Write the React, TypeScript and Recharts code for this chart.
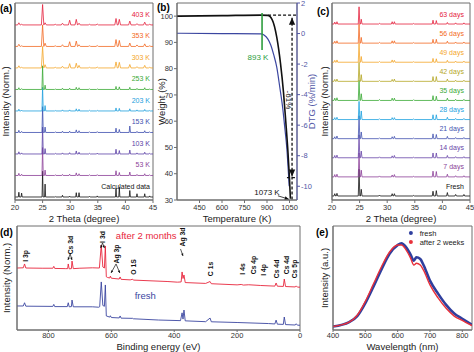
import React from 'react';
import { LineChart, Line, XAxis, YAxis, ReferenceArea, ReferenceLine, ReferenceDot } from 'recharts';

const FONT = '"Liberation Sans", Arial, Helvetica, sans-serif';
const AXIS = '#6e6e6e';
const TICK = { fontSize: 7.5, fill: '#333' };
const TITLE = 9.5;

// ---------- (a) variable-temperature XRD ----------
const thetaTicks = [20, 25, 30, 35, 40, 45];
const tempNames = ['Calculated data', '53 K', '103 K', '153 K', '203 K', '253 K', '303 K', '353 K', '403 K'];
const tempColors = ['#111111', '#8b3f98', '#5a40a6', '#3e4eae', '#1ea0dd', '#3aa935', '#f4a62a', '#f36a23', '#e5213c'];
const tempPeakPos = [20.7, 21.2, 25.0, 25.45, 27.3, 28.6, 29.9, 31.1, 31.6, 33.5, 34.9, 38.3, 38.9, 40.8, 42.1, 43.5, 44.4];
const calcPeaks = [0.22, 0.18, 1.2, 0.6, 0.02, 0.08, 0.04, 0.2, 0.2, 0.03, 0.05, 0.4, 0.45, 0.3, 0.15, 0.15, 0.05];
const k53Peaks = [0.1, 0.06, 1.3, 0.25, 0.03, 0.05, 0.06, 0.12, 0.08, 0.03, 0.04, 0.22, 0.14, 0.16, 0.05, 0.08, 0.03];
const k103Peaks = [0.1, 0.05, 1.25, 0.25, 0.03, 0.05, 0.06, 0.14, 0.08, 0.03, 0.04, 0.22, 0.16, 0.18, 0.05, 0.08, 0.03];
const k153Peaks = [0.1, 0.05, 1.2, 0.25, 0.03, 0.06, 0.06, 0.12, 0.08, 0.03, 0.04, 0.2, 0.14, 0.3, 0.05, 0.08, 0.03];
const k203Peaks = [0.08, 0.04, 1.1, 0.25, 0.02, 0.05, 0.05, 0.1, 0.08, 0.03, 0.03, 0.14, 0.12, 0.1, 0.05, 0.07, 0.02];
const k253Peaks = [0.08, 0.04, 1.1, 0.2, 0.02, 0.06, 0.06, 0.1, 0.08, 0.03, 0.03, 0.14, 0.12, 0.1, 0.05, 0.08, 0.02];
const k303Peaks = [0.1, 0.03, 1.0, 0.15, 0.03, 0.08, 0.2, 0.22, 0.12, 0.03, 0.04, 0.28, 0.26, 0.16, 0.06, 0.12, 0.03];
const k353Peaks = [0.1, 0.03, 1.0, 0.15, 0.03, 0.08, 0.22, 0.25, 0.08, 0.03, 0.04, 0.32, 0.28, 0.16, 0.07, 0.12, 0.03];
const k403Peaks = [0.1, 0.03, 0.95, 0.1, 0.03, 0.08, 0.22, 0.26, 0.08, 0.03, 0.04, 0.3, 0.26, 0.18, 0.06, 0.13, 0.03];
const tempHeights = [calcPeaks, k53Peaks, k103Peaks, k153Peaks, k203Peaks, k253Peaks, k303Peaks, k353Peaks, k403Peaks];
const tempPeakWidth = [0.1, 0.12, 0.12, 0.12, 0.12, 0.12, 0.22, 0.22, 0.22];

// ---------- (b) TG / DTG ----------
const tempTicks = [450, 600, 750, 900, 1050];
const weightTicks = [30, 40, 50, 60, 70, 80, 90, 100];
const dtgTicks = [-10, -8, -6, -4, -2, 0, 2];
const tgTemp = [300, 600, 860, 905, 935, 965, 990, 1010, 1025, 1040, 1050, 1056];
const tgWeight = [100.0, 100.2, 100.4, 100.3, 98.6, 92, 82, 71, 60, 48, 38, 30.5];
const dtgTemp = [300, 600, 860, 880, 905, 925, 945, 965, 985, 1005, 1020, 1032, 1042, 1048];
const dtgValue = [0.02, 0.0, -0.02, -0.1, -0.35, -0.75, -1.4, -2.2, -3.5, -4.9, -6.3, -7.5, -9.0, -10.0];

// ---------- (c) ageing XRD ----------
const dayNames = ['Fresh', '7 days', '14 days', '21 days', '28 days', '35 days', '42 days', '49 days', '56 days', '63 days'];
const dayColors = ['#111111', '#8b3f98', '#6845a8', '#4453b0', '#1da1e0', '#3aa935', '#b5a726', '#f4a62a', '#f36a23', '#e5213c'];
const dayPeakPos = [20.5, 20.9, 24.9, 25.3, 28.6, 30.9, 31.3, 34.8, 38.3, 38.9, 40.9, 42.4, 43.9];
const freshPeaks = [0.12, 0.14, 1.4, 0.35, 0.05, 0.12, 0.12, 0.03, 0.25, 0.28, 0.18, 0.08, 0.08];
const d7Peaks = [0.12, 0.14, 1.25, 0.35, 0.05, 0.1, 0.12, 0.03, 0.3, 0.28, 0.14, 0.06, 0.06];
const d14Peaks = [0.12, 0.14, 1.2, 0.35, 0.05, 0.1, 0.12, 0.03, 0.25, 0.25, 0.12, 0.06, 0.06];
const d21Peaks = [0.1, 0.14, 1.2, 0.35, 0.04, 0.1, 0.12, 0.03, 0.25, 0.22, 0.12, 0.06, 0.06];
const d28Peaks = [0.1, 0.12, 0.95, 0.45, 0.04, 0.1, 0.1, 0.03, 0.25, 0.25, 0.12, 0.06, 0.06];
const d35Peaks = [0.12, 0.14, 1.05, 0.35, 0.05, 0.12, 0.12, 0.04, 0.25, 0.22, 0.12, 0.06, 0.06];
const d42Peaks = [0.1, 0.12, 1.0, 0.35, 0.04, 0.1, 0.12, 0.03, 0.25, 0.25, 0.12, 0.06, 0.06];
const d49Peaks = [0.1, 0.12, 1.0, 0.3, 0.04, 0.12, 0.1, 0.03, 0.2, 0.18, 0.1, 0.06, 0.06];
const d56Peaks = [0.1, 0.12, 1.0, 0.3, 0.04, 0.12, 0.12, 0.03, 0.2, 0.2, 0.1, 0.06, 0.06];
const d63Peaks = [0.1, 0.12, 0.9, 0.25, 0.04, 0.12, 0.12, 0.03, 0.2, 0.18, 0.08, 0.06, 0.06];
const dayHeights = [freshPeaks, d7Peaks, d14Peaks, d21Peaks, d28Peaks, d35Peaks, d42Peaks, d49Peaks, d56Peaks, d63Peaks];

// ---------- (d) XPS survey: [binding energy, intensity] ----------
const energyTicks = [0, 200, 400, 600, 800];
const xpsAged: [number, number][] = [
  [900, 0.596], [880, 0.598], [876, 0.635], [872, 0.596], [820, 0.594], [786, 0.594], [783, 0.612], [780, 0.592],
  [745, 0.59], [739, 0.59], [737, 0.635], [734, 0.588], [727, 0.59], [725, 0.663], [721, 0.59], [700, 0.594],
  [660, 0.598], [638, 0.596], [632, 0.817], [627, 0.606], [622, 0.596], [619, 0.808], [616, 0.512], [612, 0.505],
  [605, 0.5], [603, 0.518], [600, 0.498], [575, 0.49], [572, 0.51], [569, 0.487], [540, 0.482], [532, 0.488],
  [530, 0.48], [420, 0.466], [390, 0.46], [378, 0.462], [375, 0.558], [372, 0.495], [369, 0.529], [365, 0.456],
  [300, 0.448], [286, 0.466], [282, 0.445], [200, 0.434], [187, 0.438], [180, 0.432], [163, 0.435], [125, 0.428],
  [80, 0.422], [76, 0.452], [72, 0.421], [53, 0.419], [50, 0.49], [46, 0.418], [15, 0.414], [12, 0.424], [8, 0.412], [0, 0.412],
];
const xpsFresh: [number, number][] = [
  [900, 0.231], [880, 0.231], [876, 0.262], [872, 0.229], [786, 0.227], [783, 0.246], [780, 0.225], [740, 0.225],
  [737, 0.262], [734, 0.223], [727, 0.225], [725, 0.288], [721, 0.223], [660, 0.223], [640, 0.219], [637, 0.224],
  [632, 0.462], [627, 0.236], [622, 0.228], [619, 0.433], [616, 0.135], [605, 0.124], [603, 0.137], [600, 0.12],
  [575, 0.116], [572, 0.135], [569, 0.114], [532, 0.112], [530, 0.108], [450, 0.096], [380, 0.09], [375, 0.165],
  [372, 0.105], [369, 0.192], [365, 0.088], [300, 0.08], [286, 0.115], [282, 0.079], [200, 0.072], [100, 0.062],
  [80, 0.058], [76, 0.095], [72, 0.056], [53, 0.054], [50, 0.125], [46, 0.052], [15, 0.048], [12, 0.06], [8, 0.046], [0, 0.046],
];
const xpsLabels: [string, number, number][] = [
  ['I 3p', 873, 0.712], ['Cs 3d', 730, 0.817], ['I 3d', 629, 0.894], ['Ag 3p', 584, 0.731], ['O 1S', 530, 0.606],
  ['Ag 3d', 375, 0.894], ['C 1s', 283, 0.587], ['I 4s', 184, 0.587], ['Cs 4p', 149, 0.625], ['I 4p', 117, 0.577],
  ['Cs 4d', 76, 0.587], ['Cs 4d', 44, 0.625], ['Cs 5p', 16, 0.587],
];
const xpsArrows: [number, number, number, number][] = [
  [731, 0.731, 738, 0.673], [731, 0.731, 725, 0.673],
  [628, 0.837, 634, 0.788], [628, 0.837, 622, 0.788],
  [585, 0.635, 601, 0.548], [585, 0.635, 573, 0.548],
  [380, 0.779, 372, 0.712],
];

// ---------- (e) PL ----------
const nmTicks = [400, 500, 600, 700, 800];
const plNm = [400, 450, 475, 500, 525, 550, 575, 600, 612, 625, 640, 650, 658, 670, 680, 700, 725, 750, 775, 800, 830];
const plFresh = [0.04, 0.09, 0.16, 0.31, 0.5, 0.7, 0.88, 0.98, 1.0, 0.96, 0.87, 0.8, 0.84, 0.82, 0.75, 0.57, 0.42, 0.29, 0.19, 0.13, 0.06];
const plAged = [0.04, 0.09, 0.17, 0.33, 0.53, 0.73, 0.9, 0.98, 0.98, 0.93, 0.83, 0.75, 0.77, 0.75, 0.69, 0.52, 0.37, 0.25, 0.16, 0.11, 0.05];
const plNames = ['fresh', 'after 2 weeks'];
const plColors = ['#2f3f9e', '#e8303a'];

// stick patterns from peak tables, stacked by offset
const buildPattern = (pos: number[], h: number[], base: number, hw: number) => {
  const pts = [{ x: 20, y: base }];
  pos.forEach((p, i) => {
    pts.push({ x: p - hw, y: base }, { x: p, y: base + h[i] }, { x: p + hw, y: base });
  });
  pts.push({ x: 45, y: base });
  return pts;
};
const tempPatterns = tempHeights.map((h, i) => buildPattern(tempPeakPos, h, 0.14 + i, tempPeakWidth[i]));
const dayPatterns = dayHeights.map((h, i) => buildPattern(dayPeakPos, h, 0.21 + i, 0.14));
const tgData = tgTemp.map((t, i) => ({ x: t, y: tgWeight[i] }));
const dtgData = dtgTemp.map((t, i) => ({ x: t, y: dtgValue[i] }));
const agedData = xpsAged.map(([x, y]) => ({ x, y }));
const freshData = xpsFresh.map(([x, y]) => ({ x, y }));
const plFreshData = plNm.map((x, i) => ({ x, y: plFresh[i] }));
const plAgedData = plNm.map((x, i) => ({ x, y: plAged[i] }));

const textShape = (text: string, color = '#222', size = 7.5, anchor = 'middle', angle = 0, weight = 'normal') =>
  (p: any) => {
    const { cx, cy } = p;
    if (cx == null || cy == null) return <g />;
    return (
      <text x={cx} y={cy} fill={color} fontSize={size} fontWeight={weight} textAnchor={anchor}
        dominantBaseline="central" transform={angle ? `rotate(${angle} ${cx} ${cy})` : undefined}>
        {text}
      </text>
    );
  };

const arrowShape = (color: string, dashed: boolean, heads: 'none' | 'end' | 'both', width = 1, head = 4) =>
  (p: any) => {
    const { x1, y1, x2, y2 } = p;
    const a = Math.atan2(y2 - y1, x2 - x1);
    const tri = (x: number, y: number, ang: number) => {
      const w = head * 0.45;
      const bx = x - head * Math.cos(ang);
      const by = y - head * Math.sin(ang);
      return `${x},${y} ${bx + w * Math.sin(ang)},${by - w * Math.cos(ang)} ${bx - w * Math.sin(ang)},${by + w * Math.cos(ang)}`;
    };
    return (
      <g>
        <line x1={x1} y1={y1} x2={x2} y2={y2} stroke={color} strokeWidth={width} strokeDasharray={dashed ? '3 2' : undefined} />
        {heads !== 'none' && <polygon points={tri(x2, y2, a)} fill={color} />}
        {heads === 'both' && <polygon points={tri(x1, y1, a + Math.PI)} fill={color} />}
      </g>
    );
  };

const box = (left: number, top: number): React.CSSProperties => ({ position: 'absolute', left, top });
const letter = (left: number, top: number): React.CSSProperties => ({
  position: 'absolute', left, top, fontSize: 10, fontWeight: 'bold', lineHeight: '12px',
});

const PanelA = () => (
  <LineChart width={163} height={224} margin={{ top: 3, right: 7, bottom: 0, left: 0 }}>
    <XAxis type="number" dataKey="x" domain={[20, 45]} ticks={thetaTicks} interval={0} allowDataOverflow
      tick={TICK} tickSize={3} tickMargin={2} height={24} stroke={AXIS}
      label={{ value: '2 Theta (degree)', position: 'insideBottom', offset: 2.5, fontSize: TITLE, fill: '#222' }} />
    <YAxis type="number" domain={[0, 9.16]} allowDataOverflow tick={false} tickLine={false} width={18} stroke={AXIS}
      label={{ value: 'Intensity (Norm.)', angle: -90, position: 'center', fontSize: TITLE, fill: '#222' }} />
    <ReferenceArea x1={20} x2={45} y1={0} y2={9.16} fill="none" stroke={AXIS} />
    {tempPatterns.map((d, i) => (
      <Line key={tempNames[i]} data={d} dataKey="y" type="linear" stroke={tempColors[i]} strokeWidth={0.8}
        dot={false} isAnimationActive={false} />
    ))}
    {tempNames.map((n, i) => (
      <ReferenceDot key={'l' + n} x={44.45} y={0.14 + i + 0.5} r={0} shape={textShape(n, tempColors[i], 7, 'end')} />
    ))}
  </LineChart>
);

const PanelB = () => (
  <LineChart width={180} height={224} margin={{ top: 3, right: 0, bottom: 0, left: 0 }}>
    <XAxis type="number" dataKey="x" domain={[300, 1100]} ticks={tempTicks} interval={0} allowDataOverflow
      tick={TICK} tickSize={3} tickMargin={2} height={24} stroke={AXIS}
      label={{ value: 'Temperature (K)', position: 'insideBottom', offset: 2.5, fontSize: TITLE, fill: '#222' }} />
    <YAxis yAxisId="w" type="number" domain={[30, 105]} ticks={weightTicks} interval={0} allowDataOverflow
      tick={TICK} tickSize={3} tickMargin={1} width={30} stroke={AXIS}
      label={{ value: 'Weight (%)', angle: -90, position: 'center', fontSize: TITLE, fill: '#222' }} />
    <YAxis yAxisId="d" orientation="right" type="number" domain={[-10.9, 2]} ticks={dtgTicks} interval={0}
      allowDataOverflow tick={{ fontSize: 7.5, fill: '#5257a6' }} tickSize={3} tickMargin={1} width={30} stroke="#5257a6"
      label={{ value: 'DTG (%/min)', angle: -90, position: 'center', fontSize: TITLE, fill: '#5257a6' }} />
    <ReferenceArea yAxisId="w" x1={300} x2={1100} y1={30} y2={105} fill="none" stroke={AXIS} />
    <Line yAxisId="d" data={dtgData} dataKey="y" type="monotone" stroke="#3b46a0" strokeWidth={1.2} dot={false} isAnimationActive={false} />
    <Line yAxisId="w" data={tgData} dataKey="y" type="monotone" stroke="#111" strokeWidth={1.6} dot={false} isAnimationActive={false} />
    <ReferenceLine yAxisId="w" segment={[{ x: 867, y: 101.2 }, { x: 867, y: 87.1 }]} stroke="#2e9e3e" strokeWidth={1.6} />
    <ReferenceDot yAxisId="w" x={840} y={84.4} r={0} shape={textShape('893 K', '#2e9e3e', 8)} />
    <ReferenceLine yAxisId="w" segment={[{ x: 907, y: 100.4 }, { x: 1100, y: 100.4 }]}
      shape={arrowShape('#111', true, 'none', 1.3)} />
    <ReferenceLine yAxisId="w" segment={[{ x: 1067, y: 99.4 }, { x: 1067, y: 38.9 }]}
      shape={arrowShape('#111', true, 'both', 1.3, 7)} />
    <ReferenceLine yAxisId="w" segment={[{ x: 1067, y: 38.9 }, { x: 1067, y: 30 }]}
      shape={arrowShape('#111', true, 'none', 1.3)} />
    <ReferenceLine yAxisId="w" segment={[{ x: 1033, y: 38.5 }, { x: 1100, y: 38.5 }]}
      shape={arrowShape('#111', true, 'none', 1.3)} />
    <ReferenceDot yAxisId="w" x={1040} y={68.1} r={0} shape={textShape('-61%', '#111', 8, 'middle', 90)} />
    <ReferenceDot yAxisId="w" x={900} y={32.9} r={0} shape={textShape('1073 K', '#111', 8)} />
    <ReferenceLine yAxisId="w" segment={[{ x: 973, y: 31.6 }, { x: 1045, y: 30.3 }]}
      shape={arrowShape('#111', false, 'end', 0.8, 4)} />
  </LineChart>
);

const PanelC = () => (
  <LineChart width={156} height={224} margin={{ top: 3, right: 4, bottom: 0, left: 0 }}>
    <XAxis type="number" dataKey="x" domain={[20, 45]} ticks={thetaTicks} interval={0} allowDataOverflow
      tick={TICK} tickSize={3} tickMargin={2} height={24} stroke={AXIS}
      label={{ value: '2 Theta (degree)', position: 'insideBottom', offset: 2.5, fontSize: TITLE, fill: '#222' }} />
    <YAxis type="number" domain={[0, 10.31]} allowDataOverflow tick={false} tickLine={false} width={14} stroke={AXIS}
      label={{ value: 'Intensity (Norm.)', angle: -90, position: 'center', fontSize: TITLE, fill: '#222' }} />
    <ReferenceArea x1={20} x2={45} y1={0} y2={10.31} fill="none" stroke={AXIS} />
    {dayPatterns.map((d, i) => (
      <Line key={dayNames[i]} data={d} dataKey="y" type="linear" stroke={dayColors[i]} strokeWidth={0.8}
        dot={false} isAnimationActive={false} />
    ))}
    {dayNames.map((n, i) => (
      <ReferenceDot key={'l' + n} x={43.9} y={0.21 + i + 0.52} r={0} shape={textShape(n, dayColors[i], 7, 'end')} />
    ))}
  </LineChart>
);

const PanelD = () => (
  <LineChart width={314} height={129} margin={{ top: 3, right: 10, bottom: 0, left: 0 }}>
    <XAxis type="number" dataKey="x" domain={[0, 900]} reversed ticks={energyTicks} interval={0} allowDataOverflow
      tick={TICK} tickSize={2} tickMargin={1} height={22} stroke={AXIS}
      label={{ value: 'Binding energy (eV)', position: 'insideBottom', offset: 2, fontSize: TITLE, fill: '#222' }} />
    <YAxis type="number" domain={[0, 1]} allowDataOverflow tick={false} tickLine={false} width={21} stroke={AXIS}
      label={{ value: 'Intensity (Norm.)', angle: -90, position: 'center', fontSize: TITLE, fill: '#222' }} />
    <ReferenceArea x1={0} x2={900} y1={0} y2={1} fill="none" stroke={AXIS} />
    <Line data={agedData} dataKey="y" type="linear" stroke="#e8263c" strokeWidth={0.9} dot={false} isAnimationActive={false} />
    <Line data={freshData} dataKey="y" type="linear" stroke="#3b46a0" strokeWidth={0.9} dot={false} isAnimationActive={false} />
    {xpsArrows.map(([ax, ay, bx, by], i) => (
      <ReferenceLine key={'a' + i} segment={[{ x: ax, y: ay }, { x: bx, y: by }]} shape={arrowShape('#111', false, 'end', 0.7, 2.5)} />
    ))}
    {xpsLabels.map(([t, x, y], i) => (
      <ReferenceDot key={'t' + i} x={x} y={y} r={0} shape={textShape(t, '#111', 6.8, 'middle', -90, 'bold')} />
    ))}
    <ReferenceDot x={489} y={0.913} r={0} shape={textShape('after 2 months', '#e8263c', 9.5)} />
    <ReferenceDot x={492} y={0.327} r={0} shape={textShape('fresh', '#3b46a0', 9.5)} />
  </LineChart>
);

const PanelE = () => (
  <LineChart width={157} height={129} margin={{ top: 3, right: 2, bottom: 0, left: 0 }}>
    <XAxis type="number" dataKey="x" domain={[400, 830]} ticks={nmTicks} interval={0} allowDataOverflow
      tick={TICK} tickSize={2} tickMargin={1} height={22} stroke={AXIS}
      label={{ value: 'Wavelength (nm)', position: 'insideBottom', offset: 2, fontSize: TITLE, fill: '#222' }} />
    <YAxis type="number" domain={[0, 1.2]} allowDataOverflow tick={false} tickLine={false} width={16} stroke={AXIS}
      label={{ value: 'Intensity (a.u.)', angle: -90, position: 'center', fontSize: TITLE, fill: '#222' }} />
    <ReferenceArea x1={400} x2={830} y1={0} y2={1.2} fill="none" stroke={AXIS} />
    <Line data={plFreshData} dataKey="y" name={plNames[0]} type="monotone" stroke={plColors[0]} strokeWidth={2.6} dot={false} isAnimationActive={false} />
    <Line data={plAgedData} dataKey="y" name={plNames[1]} type="monotone" stroke={plColors[1]} strokeWidth={1.4} dot={false} isAnimationActive={false} />
    {/* legend */}
    {plNames.map((n, i) => (
      <ReferenceDot key={'d' + n} x={641} y={1.119 - i * 0.104} r={2} fill={plColors[i]} stroke="none" />
    ))}
    {plNames.map((n, i) => (
      <ReferenceDot key={'t' + n} x={668} y={1.119 - i * 0.104} r={0} shape={textShape(n, '#222', 7.5, 'start')} />
    ))}
  </LineChart>
);

export default function App() {
  return (
    <div style={{ position: 'fixed', left: 0, top: 0, width: 474, height: 352, background: '#fff', overflow: 'hidden', fontFamily: FONT }}>
      <div style={box(147, 0)}><PanelB /></div>
      <div style={box(-3, 0)}><PanelA /></div>
      <div style={box(318, 0)}><PanelC /></div>
      <div style={box(-4, 223)}><PanelD /></div>
      <div style={box(317, 223)}><PanelE /></div>
      <div style={letter(0, 3)}>(a)</div>
      <div style={letter(157, 2)}>(b)</div>
      <div style={letter(317, 6)}>(c)</div>
      <div style={letter(0, 227)}>(d)</div>
      <div style={letter(316, 227)}>(e)</div>
    </div>
  );
}
